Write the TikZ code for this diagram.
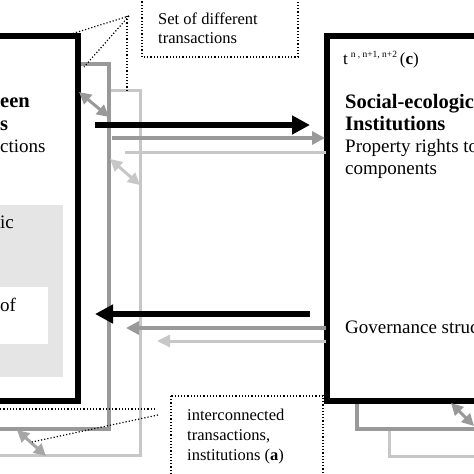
\documentclass[tikz,border=0pt]{standalone}
\usepackage{fontspec}
\setmainfont{Liberation Serif}
\usetikzlibrary{arrows.meta}

\definecolor{midgray}{gray}{0.6}
\definecolor{palegray}{gray}{0.78}
\definecolor{fillgray}{gray}{0.9}

\tikzset{
  frame/.style={draw, fill=white, outer sep=0pt, inner sep=0pt, minimum height=365pt},
  blackframe/.style={frame, draw=black, line width=6pt},
  midframe/.style={frame, draw=midgray, line width=4pt},
  paleframe/.style={frame, draw=palegray, line width=3pt},
  bigarrow/.style={line width=5.5pt, -{Triangle[length=18pt,width=18pt]}},
  midarrow/.style={midgray, line width=4pt, -{Triangle[length=13pt,width=13pt]}},
  palearrow/.style={palegray, line width=3pt, -{Triangle[length=13pt,width=12pt]}},
  twoway/.style={line width=3pt, {Triangle[length=12pt,width=12pt]}-{Triangle[length=12pt,width=12pt]}},
  callout/.style={draw, dotted, line width=1.2pt},
  txt/.style={anchor=base west, inner sep=0pt},
  big/.style={font=\fontsize{19}{23}\selectfont},
  bigbold/.style={font=\fontsize{20.5}{23}\selectfont\bfseries},
  small/.style={font=\fontsize{16.5}{19}\selectfont},
}

\begin{document}
\begin{tikzpicture}[x=1pt, y=-1pt]
    \useasboundingbox (0,0) rectangle (474,474);
    \clip (0,0) rectangle (474,474);

    % linke Seite: drei Rahmen hintereinander
    \node[paleframe, minimum width=220pt, anchor=north east] (lpale) at (140,90) {};
    \node[midframe, minimum width=190pt, anchor=north east] (lmid) at (109,64) {};
    \node[blackframe, minimum width=160pt, anchor=north east] (lsoc) at (78,36) {};

    % rechte Seite
    \node[paleframe, minimum width=200pt, anchor=north west] (rpale) at (389,91) {};
    \node[midframe, minimum width=200pt, anchor=north west] (rmid) at (357,64) {};
    \node[blackframe, minimum width=200pt, anchor=north west] (rsoc) at (327,36) {};

    % innere Felder links
    \fill[fillgray] (-10,205) rectangle (63,377);
    \fill[white] (-10,287) rectangle (48,344);

    % Texte links
    \node[txt, bigbold] (l1) at (0,107) {een};
    \node[txt, bigbold] (l2) at (0,130) {s};
    \node[txt, big] (l3) at (0,152) {ctions};
    \node[txt, big] (l4) at (0,228) {ic};
    \node[txt, big] (l5) at (0,311) {of};

    % Texte rechts
    \node[txt, font=\fontsize{17}{17}\selectfont] (tn) at (343,64)
        {t\,\raisebox{7pt}{\fontsize{9.5}{9.5}\selectfont n , n+1, n+2}\,(\textbf{c})};
    \node[txt, bigbold] (r1) at (345,108) {Social-ecologic};
    \node[txt, bigbold] (r2) at (345,130) {Institutions};
    \node[txt, big] (r3) at (345,152) {Property rights to};
    \node[txt, big] (r4) at (345,174) {components};
    \node[txt, big] (r5) at (345,333) {Governance struc};

    % Pfeile nach rechts
    \coordinate (a1s) at (95,125);  \coordinate (a1e) at (310,125);
    \coordinate (a2s) at (112,138); \coordinate (a2e) at (325,138);
    \coordinate (a3s) at (125,152); \coordinate (a3e) at (326,152);
    \draw[bigarrow] (a1s) -- (a1e);
    \draw[midarrow] (a2s) -- (a2e);
    \draw[palegray, line width=3pt] (a3s) -- (a3e);

    % Pfeile nach links
    \coordinate (b1s) at (310,314); \coordinate (b1e) at (95,314);
    \coordinate (b2s) at (326,328); \coordinate (b2e) at (126,328);
    \coordinate (b3s) at (326,341); \coordinate (b3e) at (157,341);
    \draw[bigarrow] (b1s) -- (b1e);
    \draw[midarrow] (b2s) -- (b2e);
    \draw[palearrow] (b3s) -- (b3e);

    % Doppelpfeile zwischen den Rahmen
    \coordinate (d1a) at (79,92);   \coordinate (d1b) at (109,117);
    \coordinate (d2a) at (110,159); \coordinate (d2b) at (140,185);
    \coordinate (d3a) at (17,430);  \coordinate (d3b) at (46,456);
    \coordinate (d4a) at (451,403); \coordinate (d4b) at (474,426);
    \draw[twoway, midgray] (d1a) -- (d1b);
    \draw[twoway, palegray] (d2a) -- (d2b);
    \draw[twoway, gray!70] (d3a) -- (d3b);
    \draw[twoway, midgray] (d4a) -- (d4b);

    % Legende oben
    \draw[callout] (142,-5) rectangle (298,57);
    \node[txt, small] (set1) at (158,24) {Set of different};
    \node[txt, small] (set2) at (158,43) {transactions};
    \coordinate (top) at (129,16);
    \coordinate (t1) at (68,35);
    \coordinate (t2) at (84,67);
    \coordinate (t3) at (127,90);
    \draw[dotted, line width=1.2pt] (top) -- (t1);
    \draw[dotted, line width=1.2pt] (top) -- (t2);
    \draw[dotted, line width=1.2pt] (top -| t3) -- (t3);

    % Legende unten
    \draw[callout] (171,396) rectangle (323,480);
    \node[txt, small] (ic1) at (187,420) {interconnected};
    \node[txt, small] (ic2) at (187,440) {transactions,};
    \node[txt, small] (ic3) at (187,460) {institutions (\textbf{a})};
    \coordinate (bot1) at (155,409); \coordinate (u1) at (-5,409);
    \coordinate (bot2) at (158,415); \coordinate (u2) at (32,442);
    \draw[dotted, line width=1.2pt] (bot1) -- (u1);
    \draw[dotted, line width=1.2pt] (bot2) -- (u2);
\end{tikzpicture}
\end{document}
